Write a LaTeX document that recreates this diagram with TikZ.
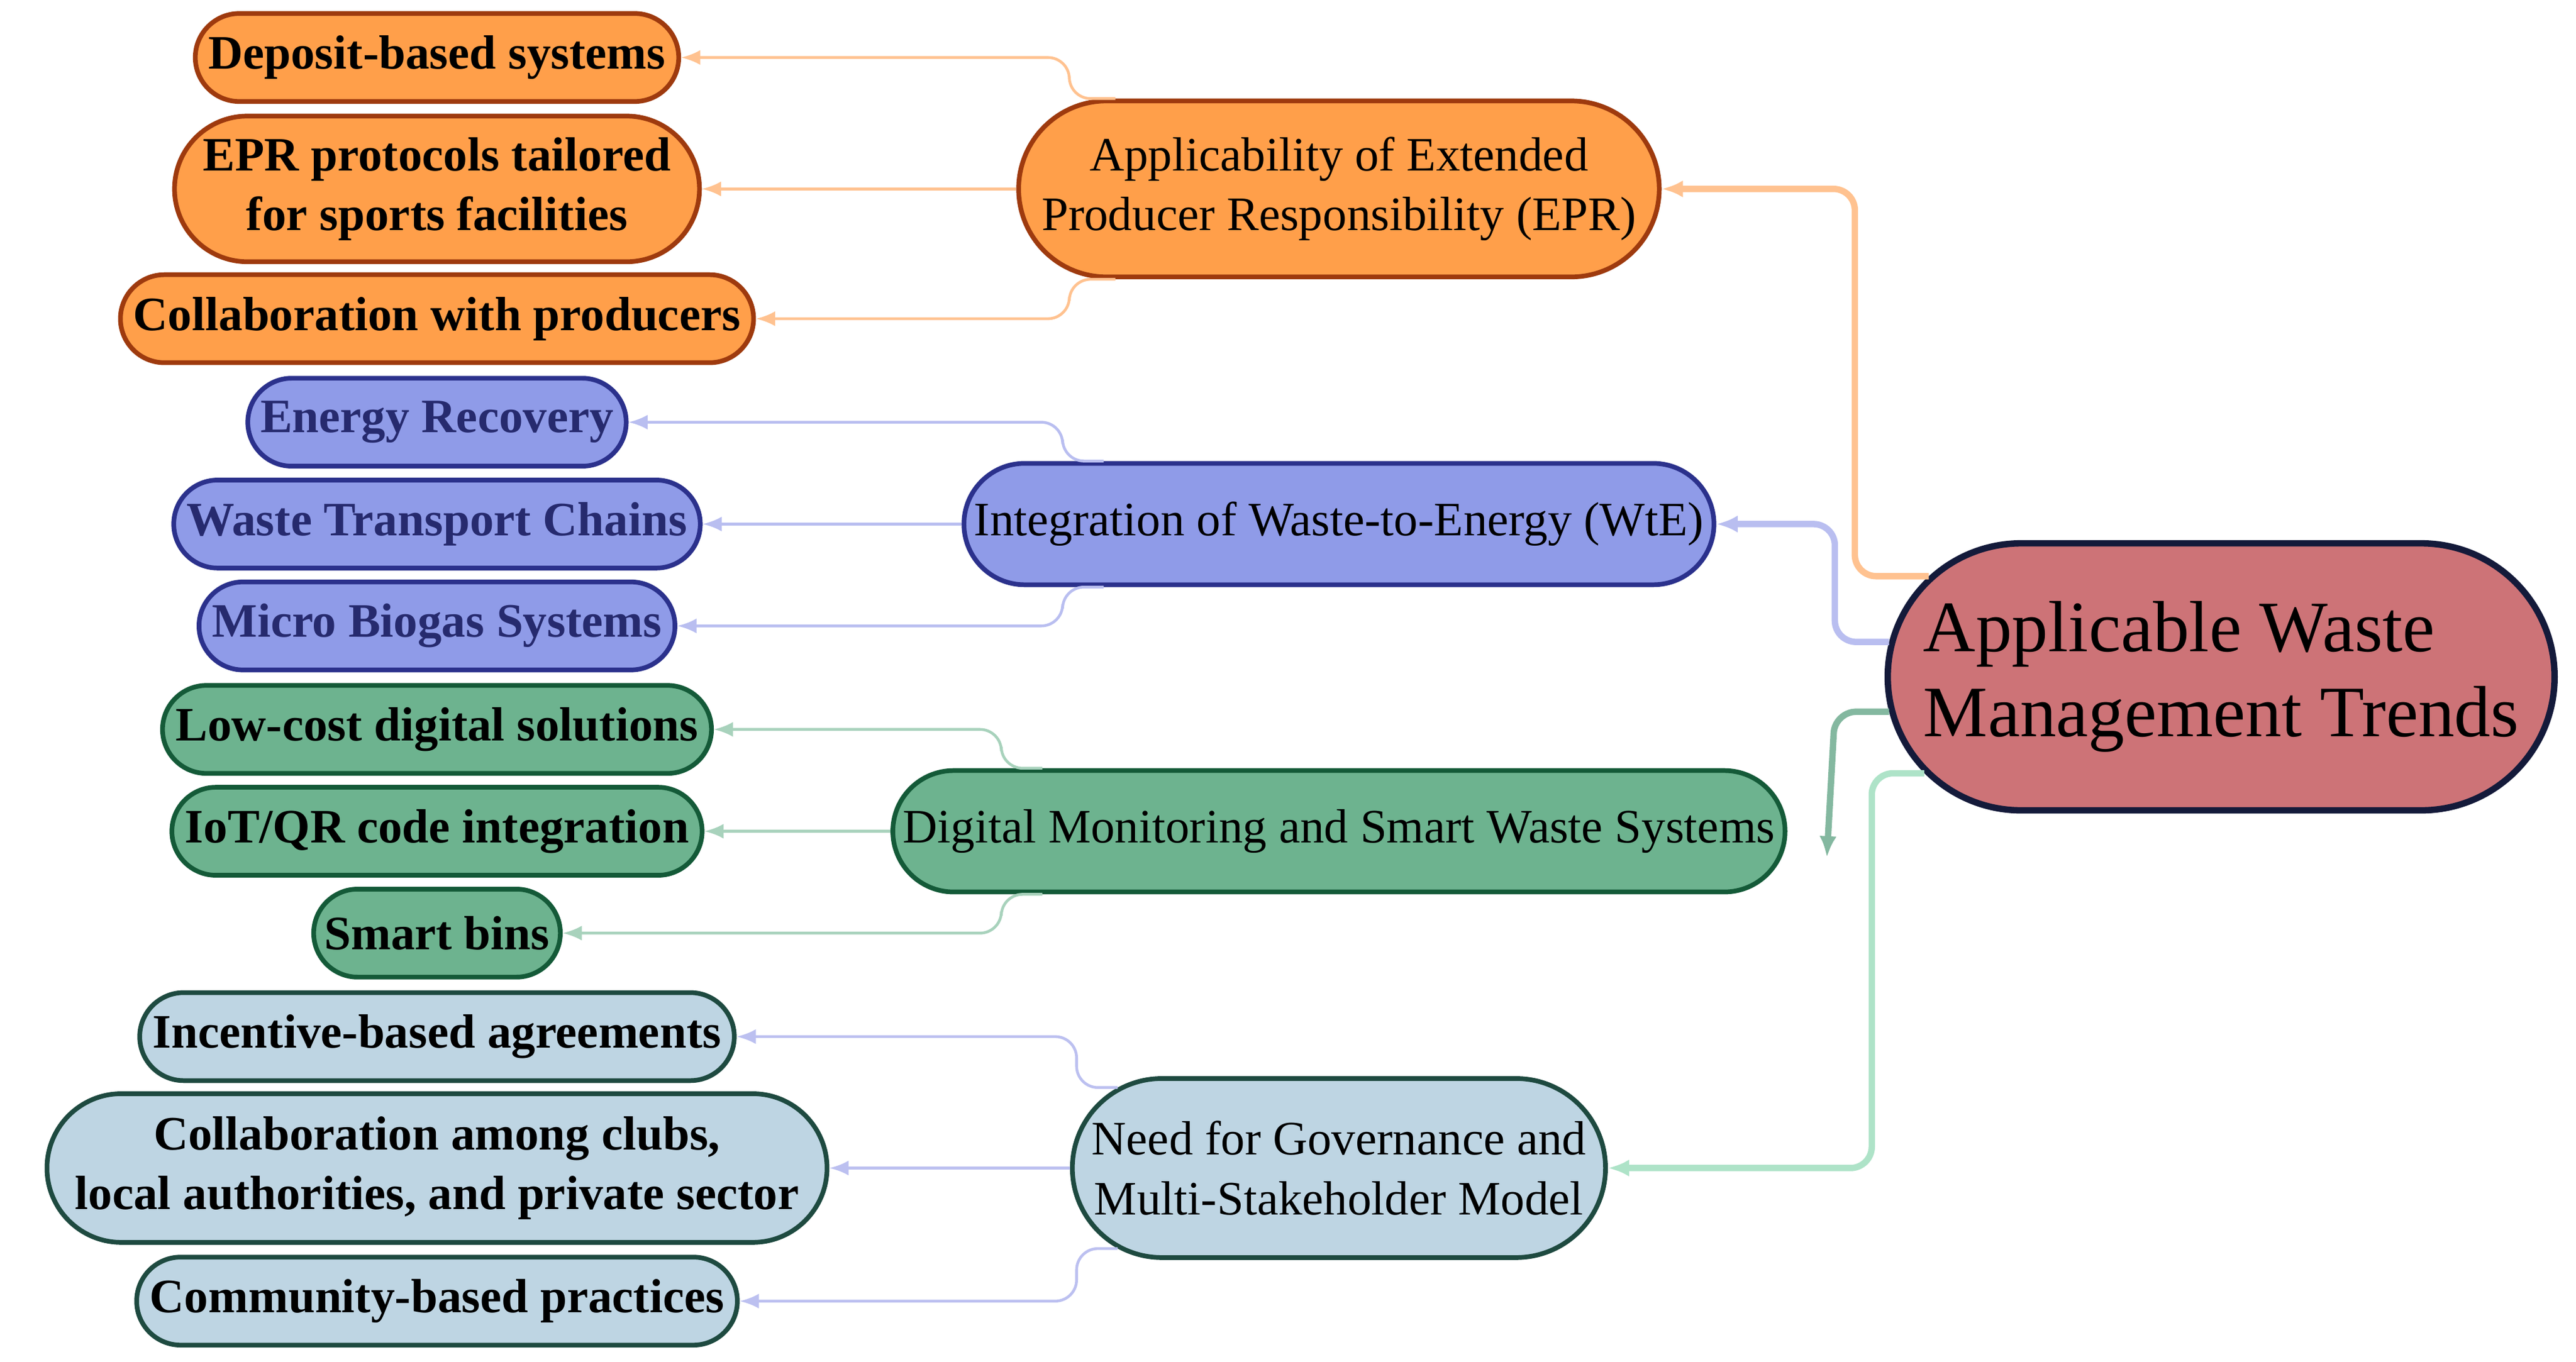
\documentclass[tikz,border=0pt]{standalone}
\usepackage{fontspec}
\setmainfont{Liberation Serif}
\usetikzlibrary{shapes.misc,arrows.meta,calc}
\definecolor{eprfill}{HTML}{FF9F4A}
\definecolor{eprdraw}{HTML}{9E3A0E}
\definecolor{eprline}{HTML}{FFC290}
\definecolor{wtefill}{HTML}{8F9BE8}
\definecolor{wtedraw}{HTML}{2B318C}
\definecolor{wteline}{HTML}{B9BEF0}
\definecolor{wtetext}{HTML}{262A6E}
\definecolor{digfill}{HTML}{6DB38F}
\definecolor{digdraw}{HTML}{145A38}
\definecolor{digline}{HTML}{A8D2BC}
\definecolor{govfill}{HTML}{BED5E3}
\definecolor{govdraw}{HTML}{1E4A40}
\definecolor{govline}{HTML}{BCC0F0}
\definecolor{rootfill}{HTML}{CD7377}
\definecolor{rootdraw}{HTML}{141A3A}
\definecolor{rootgreen}{HTML}{84B8A0}
\definecolor{rootmint}{HTML}{AEE3C8}
\begin{document}
\begin{tikzpicture}[x=0.02707cm,y=-0.02707cm,
	  every node/.style={align=center,rounded rectangle,line width=2.2pt},
	  root/.style={fill=rootfill,draw=rootdraw,line width=3pt,font=\fontsize{34}{40}\selectfont,minimum height=4.4cm,inner xsep=0.2cm,align=left},
	  topic/.style={font=\fontsize{22.5}{28}\selectfont,minimum height=2cm,inner xsep=0.1cm},
	  leaf/.style={font=\bfseries\fontsize{22.5}{28}\selectfont,minimum height=1.45cm,inner xsep=0.12cm},
	  eprnode/.style={fill=eprfill,draw=eprdraw},
	  wtenode/.style={fill=wtefill,draw=wtedraw},
	  dignode/.style={fill=digfill,draw=digdraw},
	  govnode/.style={fill=govfill,draw=govdraw},
	  link/.style={-{Latex[length=9pt,width=7pt]},line width=1.3pt,rounded corners=10},
	  rootlink/.style={-{Latex[length=10pt,width=8pt]},line width=3pt,rounded corners=10}]

	  \useasboundingbox (0,0) rectangle (1568,829);

	  % root and topics
	  \node[root] (root) at (1352,412) {Applicable Waste\\Management Trends};
	  \node[topic,eprnode,minimum height=2.9cm] (epr) at (815,115) {Applicability of Extended\\Producer Responsibility (EPR)};
	  \node[topic,wtenode] (wte) at (815,319) {Integration of Waste-to-Energy (WtE)};
	  \node[topic,dignode] (dig) at (815,506) {Digital Monitoring and Smart Waste Systems};
	  \node[topic,govnode,minimum height=2.95cm] (gov) at (815,711) {Need for Governance and\\Multi-Stakeholder Model};

	  % leaves
	  \node[leaf,eprnode] (deposit) at (266,35) {Deposit-based systems};
	  \node[leaf,eprnode,minimum height=2.4cm] (protocols) at (266,115) {EPR protocols tailored\\for sports facilities};
	  \node[leaf,eprnode] (producers) at (266,194) {Collaboration with producers};
	  \node[leaf,wtenode,text=wtetext] (energy) at (266,257) {Energy Recovery};
	  \node[leaf,wtenode,text=wtetext] (transport) at (266,319) {Waste Transport Chains};
	  \node[leaf,wtenode,text=wtetext] (biogas) at (266,381) {Micro Biogas Systems};
	  \node[leaf,dignode] (lowcost) at (266,444) {Low-cost digital solutions};
	  \node[leaf,dignode] (iot) at (266,506) {IoT/QR code integration};
	  \node[leaf,dignode] (bins) at (266,568) {Smart bins};
	  \node[leaf,govnode] (incentive) at (266,631) {Incentive-based agreements};
	  \node[leaf,govnode,minimum height=2.45cm] (clubs) at (266,711) {Collaboration among clubs,\\local authorities, and private sector};
	  \node[leaf,govnode] (community) at (266,792) {Community-based practices};

	  % root connectors
	  \coordinate (digend) at (1112,522);
	  \draw[rootlink,draw=eprline] (root.161) -- ++(-45,0) |- (epr.east);
	  \draw[rootlink,draw=wteline] (root.174) -- ++(-33,0) |- (wte.east);
	  \draw[rootlink,draw=rootgreen] (root.186) -- ++(-33,0) -- (digend);
	  \draw[rootlink,draw=rootmint] (root.198) -- ++(-32,0) |- (gov.east);

	  % leaf connectors
	  \draw[link,draw=eprline] (epr.158) -- ++(-28,0) |- (deposit.east);
	  \draw[link,draw=eprline] (epr.west) -- (protocols.east);
	  \draw[link,draw=eprline] (epr.202) -- ++(-28,0) |- (producers.east);
	  \draw[link,draw=wteline] (wte.165) -- ++(-25,0) |- (energy.east);
	  \draw[link,draw=wteline] (wte.west) -- (transport.east);
	  \draw[link,draw=wteline] (wte.195) -- ++(-25,0) |- (biogas.east);
	  \draw[link,draw=digline] (dig.168) -- ++(-25,0) |- (lowcost.east);
	  \draw[link,draw=digline] (dig.west) -- (iot.east);
	  \draw[link,draw=digline] (dig.192) -- ++(-25,0) |- (bins.east);
	  \draw[link,draw=govline] (gov.160) -- ++(-25,0) |- (incentive.east);
	  \draw[link,draw=govline] (gov.west) -- (clubs.east);
	  \draw[link,draw=govline] (gov.200) -- ++(-25,0) |- (community.east);
\end{tikzpicture}
\end{document}
